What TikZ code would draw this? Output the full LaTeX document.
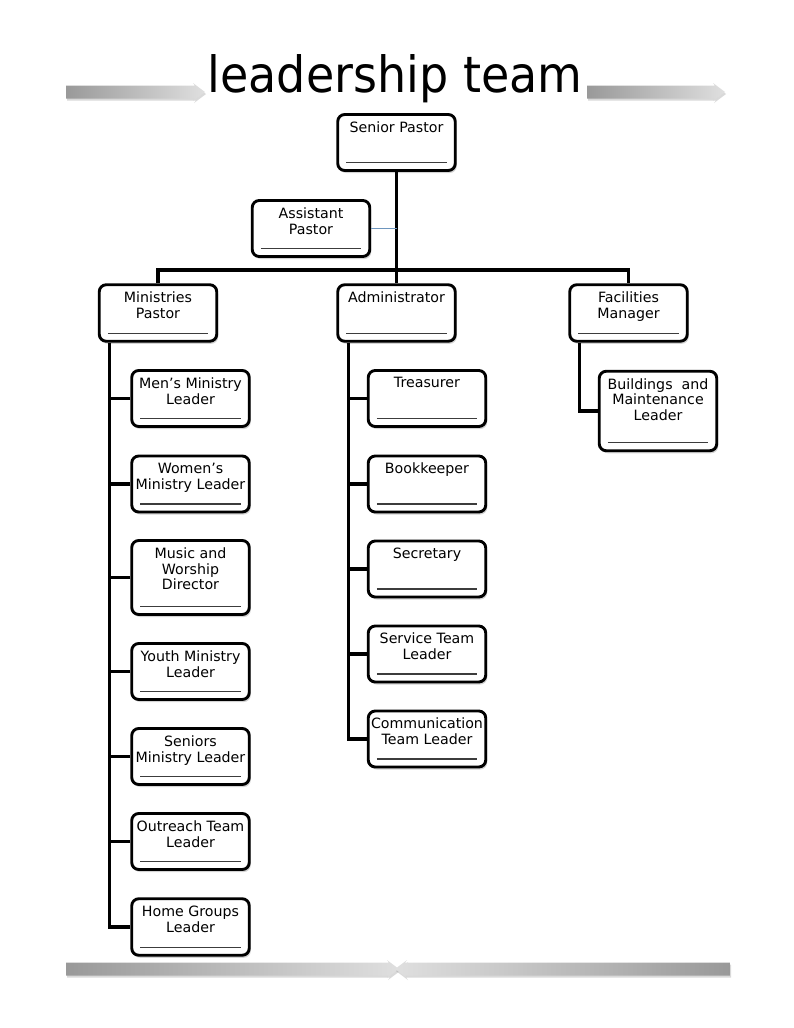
\documentclass[tikz,border=0pt]{standalone}
\usepackage{fontspec}
\setmainfont{DejaVu Sans}
\usetikzlibrary{positioning, shadows, calc}
\definecolor{rulegray}{RGB}{60,60,60}
\definecolor{linkblue}{RGB}{110,150,190}

\tikzset{
  rolebox/.style={draw, line width=2.9pt, rounded corners=7pt, fill=white,
    minimum width=117.5pt, inner sep=0pt,
    drop shadow={shadow xshift=1.5pt, shadow yshift=-2.5pt, opacity=0.35}},
  roletext/.style={font=\fontsize{14.2}{15.8}\selectfont, align=center, inner sep=0pt},
  ruleline/.style={rulegray, line width=1.3pt},
  link/.style={line width=3.4pt},
  bannerfill/.style={left color=gray!80, right color=gray!25},
  pics/banner/.style={code={
    \shade[bannerfill,
      drop shadow={shadow xshift=1pt, shadow yshift=-2pt, opacity=0.3}]
      (0,-6.5) -- (#1-10,-6.5) -- (#1-12,-9) -- (#1,0) -- (#1-12,9)
      -- (#1-10,6.5) -- (0,6.5) -- cycle;
  }}
}

% box with its title text and a blank signature line
\newcommand{\orgrole}[5]{%
  \node[rolebox, minimum height=#4pt] (#1) at (#2,#3) {};
  \node[roletext, below=8.3pt of #1.north] (#1-txt) {#5};
  \draw[ruleline] ([xshift=10pt, yshift=9.5pt]#1.south west)
    -- ([xshift=-10pt, yshift=9.5pt]#1.south east);
}

\begin{document}
\begin{tikzpicture}[x=1pt, y=-1pt]
  \useasboundingbox (0,0) rectangle (794,1028);

  % Title and banner arrows
  \node[font=\fontsize{50}{50}\selectfont, xscale=0.92, anchor=base] (title) at (395,92) {leadership team};
  \pic at (66,92) {banner=139};
  \pic at (587,92) {banner=138};
  \pic at (66,969) {banner=333};
  \pic[xscale=-1, bannerfill/.style={left color=gray!25, right color=gray!80}] at (730,969) {banner=335};

  % Top level
  \orgrole{sp}{396.5}{142.5}{56}{Senior Pastor}
  \orgrole{ap}{311}{228.5}{56}{Assistant\\Pastor}
  \orgrole{mp}{158}{313}{56.5}{Ministries\\Pastor}
  \orgrole{ad}{396.5}{313}{56.5}{Administrator}
  \orgrole{fm}{628.5}{313}{56.5}{Facilities\\Manager}

  % Ministries column
  \foreach \nm/\yy/\hh/\txt in {
      mm/398.5/56/{Men’s Ministry\\Leader},
      wm/484/56/{Women’s\\Ministry Leader},
      mw/577.5/74/{Music and\\Worship\\Director},
      ym/671.5/56/{Youth Ministry\\Leader},
      sm/756.5/56/{Seniors\\Ministry Leader},
      ot/841.5/56/{Outreach Team\\Leader},
      hg/927/56.5/{Home Groups\\Leader}}
    {\orgrole{\nm}{190.5}{\yy}{\hh}{\txt}}

  % Administration column
  \foreach \nm/\yy/\txt in {
      tr/398.5/{Treasurer},
      bk/484/{Bookkeeper},
      se/569/{Secretary},
      st/654/{Service Team\\Leader},
      ct/739/{Communication\\Team Leader}}
    {\orgrole{\nm}{427}{\yy}{56}{\txt}}

  % Facilities
  \orgrole{bm}{658}{411}{79.5}{Buildings~ and\\Maintenance\\Leader}

  % Connectors
  \coordinate (bar) at (396.5,270);
  \draw[link] (sp.south) -- (sp.south |- bar);
  \draw[link] (mp.north) -- (mp.north |- bar) -- (fm.north |- bar) -- (fm.north);
  \draw[link] (ad.north) -- (ad.north |- bar);
  \draw[linkblue, line width=0.8pt] (ap.east) -- (ap.east -| sp.south);

  \coordinate (mpspine) at ([xshift=11.5pt]mp.south west);
  \draw[link] (mpspine) |- (hg.west);
  \foreach \nm in {mm,wm,mw,ym,sm,ot}
    \draw[link] (\nm.west) -- (\nm.west -| mpspine);

  \coordinate (adspine) at ([xshift=12pt]ad.south west);
  \draw[link] (adspine) |- (ct.west);
  \foreach \nm in {tr,bk,se,st}
    \draw[link] (\nm.west) -- (\nm.west -| adspine);

  \coordinate (fmspine) at ([xshift=11pt]fm.south west);
  \draw[link] (fmspine) |- (bm.west);
\end{tikzpicture}
\end{document}
